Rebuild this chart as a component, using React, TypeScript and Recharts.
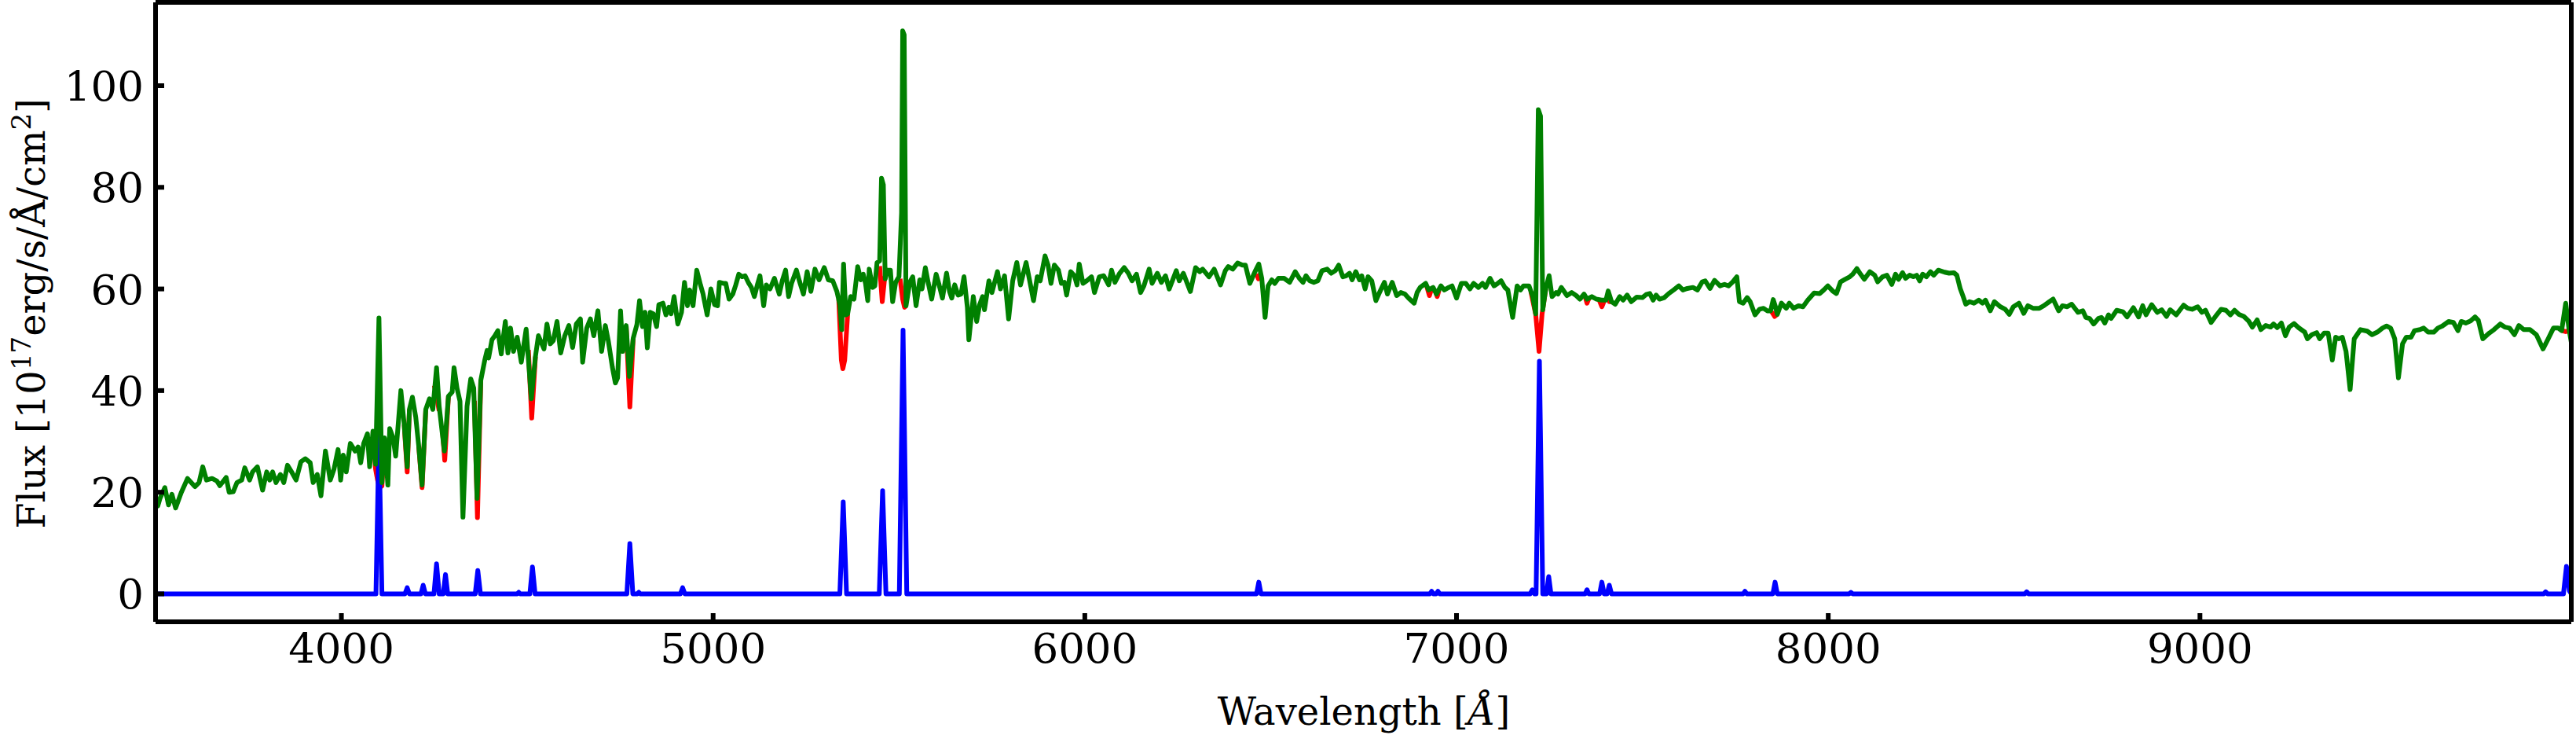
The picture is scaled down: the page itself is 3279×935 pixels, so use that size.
import { Line, LineChart, ReferenceLine, XAxis, YAxis } from "recharts";

type Pt = [number, number];

// observed flux (green), [wavelength, flux]
const observed: Pt[] = [
  [3500, 18.5], [3506, 17.3], [3512, 18.8], [3525, 20.9], [3535, 17.5], [3544, 19.6], [3554, 16.9], [3569, 19.9],
  [3586, 22.7], [3606, 21.1], [3617, 21.9], [3627, 25.0], [3637, 22.4], [3652, 22.7], [3665, 22.2], [3673, 21.3],
  [3690, 22.9], [3698, 20.0], [3709, 20.1], [3719, 21.9], [3732, 22.4], [3740, 24.8], [3753, 22.4], [3761, 24.0],
  [3774, 25.0], [3788, 20.4], [3799, 24.0], [3807, 22.4], [3815, 24.0], [3824, 21.9], [3836, 23.5], [3845, 21.9],
  [3855, 25.3], [3866, 24.0], [3878, 22.4], [3891, 26.0], [3903, 26.6], [3916, 25.8], [3924, 21.9], [3935, 23.5],
  [3945, 19.3], [3957, 28.1], [3970, 22.4], [3980, 24.5], [3991, 28.4], [3998, 22.4], [4005, 27.3], [4013, 24.0],
  [4024, 29.6], [4037, 28.1], [4045, 28.9], [4052, 25.8], [4060, 29.6], [4070, 31.5], [4076, 25.0], [4085, 32.0],
  [4092, 25.5], [4101, 54.3], [4109, 21.9], [4116, 30.7], [4125, 21.4], [4130, 32.5], [4139, 30.7],
  [4146, 27.1], [4160, 40.0], [4169, 33.3], [4177, 25.0], [4183, 36.3], [4191, 38.7], [4200, 34.8], [4208, 29.1],
  [4217, 21.4], [4227, 36.3], [4237, 38.4], [4246, 36.3], [4256, 44.5], [4263, 36.9], [4277, 28.1], [4288, 38.9],
  [4298, 39.7], [4303, 44.5], [4311, 40.5], [4319, 37.9], [4327, 15.1], [4338, 36.9], [4348, 42.3], [4356, 40.5],
  [4365, 18.8], [4375, 42.0], [4386, 46.1], [4392, 47.9], [4396, 46.4], [4405, 50.0], [4413, 50.8], [4421, 51.8],
  [4430, 47.2], [4441, 53.6], [4448, 47.4], [4455, 52.3], [4463, 47.7], [4473, 50.5], [4484, 45.6], [4497, 52.1],
  [4511, 38.4], [4522, 46.7], [4530, 50.8], [4545, 48.2], [4553, 53.1], [4562, 49.2], [4570, 49.8], [4580, 53.6],
  [4590, 47.4], [4601, 50.8], [4612, 52.8], [4622, 48.5], [4632, 53.1], [4643, 54.1], [4649, 45.6], [4660, 52.3],
  [4670, 54.1], [4679, 50.8], [4690, 55.7], [4700, 47.7], [4710, 52.8], [4718, 49.8], [4729, 44.6], [4737, 41.5],
  [4743, 42.5], [4751, 55.7], [4757, 47.7], [4766, 52.8], [4775, 42.8], [4785, 50.3], [4795, 53.0], [4802, 57.7],
  [4810, 52.6], [4817, 55.4], [4823, 48.4], [4831, 55.4], [4839, 55.1], [4848, 52.6], [4854, 56.9], [4865, 57.2],
  [4873, 54.9], [4881, 56.4], [4887, 55.1], [4895, 58.5], [4905, 53.1], [4915, 55.4], [4923, 61.3], [4931, 56.7],
  [4937, 59.8], [4946, 56.7], [4956, 63.7], [4966, 60.8], [4973, 59.0], [4984, 54.9], [4994, 60.0], [5004, 56.9],
  [5012, 56.7], [5017, 61.3], [5027, 61.1], [5034, 61.1], [5043, 58.0], [5053, 59.0], [5061, 60.8], [5069, 62.9],
  [5078, 62.4], [5086, 62.6], [5096, 61.1], [5103, 60.3], [5111, 58.5], [5119, 60.8], [5126, 62.6], [5136, 56.7],
  [5143, 60.8], [5153, 60.0], [5165, 62.1], [5178, 59.0], [5186, 61.6], [5195, 63.7], [5203, 58.5], [5211, 61.1],
  [5224, 63.7], [5232, 61.6], [5243, 59.0], [5253, 63.4], [5263, 59.5], [5274, 63.9], [5285, 61.8], [5299, 64.2],
  [5310, 61.8], [5322, 61.6], [5333, 59.5], [5341, 56.9], [5346, 52.0], [5351, 64.9], [5357, 54.9], [5362, 55.1],
  [5370, 58.5], [5379, 58.0], [5389, 64.4], [5397, 61.8], [5404, 62.9], [5410, 61.1], [5416, 57.7], [5420, 63.9],
  [5429, 60.3], [5435, 60.6], [5441, 65.2], [5448, 65.5], [5453, 81.8], [5458, 80.5], [5463, 62.0], [5469, 63.7],
  [5477, 63.7], [5483, 57.5], [5491, 61.3], [5500, 62.4], [5507, 75.0], [5510, 110.8], [5514, 110.0], [5519, 56.7],
  [5529, 61.3], [5537, 62.4], [5546, 56.7], [5556, 61.8], [5562, 60.0], [5571, 64.2], [5579, 61.1], [5588, 58.0],
  [5600, 62.9], [5608, 60.8], [5617, 58.2], [5628, 63.1], [5636, 59.5], [5642, 58.2], [5650, 60.8], [5659, 58.8],
  [5667, 59.0], [5675, 62.4], [5684, 56.4], [5688, 50.0], [5695, 54.9], [5700, 58.5], [5709, 53.6], [5717, 56.9],
  [5725, 58.5], [5730, 55.9], [5742, 61.6], [5750, 59.3], [5765, 63.4], [5773, 60.0], [5784, 62.6], [5795, 54.1],
  [5806, 61.6], [5817, 65.2], [5827, 60.8], [5842, 65.2], [5853, 61.1], [5862, 57.7], [5872, 62.4], [5880, 61.6],
  [5893, 66.5], [5901, 64.7], [5909, 61.1], [5918, 64.7], [5929, 63.7], [5937, 61.1], [5945, 61.3], [5951, 58.8],
  [5962, 63.4], [5972, 62.6], [5979, 60.8], [5985, 64.9], [5995, 61.1], [6005, 61.6], [6018, 62.4], [6026, 59.3],
  [6039, 62.4], [6051, 62.6], [6064, 60.8], [6072, 63.7], [6081, 61.3], [6093, 63.0], [6106, 64.2], [6117, 63.1],
  [6127, 61.6], [6139, 62.9], [6150, 59.3], [6159, 60.6], [6173, 63.9], [6181, 61.1], [6195, 63.1], [6206, 61.3],
  [6217, 62.6], [6227, 60.0], [6246, 63.6], [6254, 61.6], [6265, 63.1], [6284, 59.5], [6298, 64.2], [6309, 63.4],
  [6317, 63.9], [6334, 62.4], [6348, 63.9], [6365, 60.8], [6378, 63.6], [6386, 64.4], [6398, 63.9], [6411, 65.1],
  [6424, 64.7], [6432, 64.7], [6444, 61.1], [6459, 63.6], [6468, 64.9], [6476, 62.1], [6485, 54.4], [6493, 60.6],
  [6503, 61.8], [6511, 61.1], [6521, 62.1], [6536, 62.1], [6551, 61.3], [6566, 63.4], [6577, 62.1], [6587, 61.3],
  [6595, 62.6], [6605, 61.6], [6616, 61.3], [6627, 61.6], [6638, 63.6], [6652, 63.9], [6663, 63.1], [6674, 63.6],
  [6683, 64.7], [6694, 62.4], [6703, 62.6], [6712, 63.1], [6719, 61.8], [6729, 63.4], [6739, 61.8], [6745, 62.6],
  [6754, 60.0], [6762, 62.4], [6772, 61.6], [6783, 57.7], [6794, 59.5], [6806, 61.3], [6814, 59.0], [6827, 61.3],
  [6839, 58.7], [6850, 59.3], [6861, 59.0], [6871, 58.2], [6886, 57.2], [6894, 59.3], [6902, 60.3], [6917, 61.1],
  [6925, 59.8], [6937, 60.3], [6946, 59.0], [6958, 60.6], [6967, 59.8], [6979, 60.3], [6988, 60.6], [7000, 58.2],
  [7013, 61.1], [7025, 61.1], [7036, 60.0], [7046, 61.1], [7059, 60.3], [7070, 61.1], [7078, 60.3], [7090, 62.1],
  [7101, 60.6], [7111, 61.1], [7120, 61.6], [7130, 60.3], [7138, 59.8], [7151, 54.4], [7163, 60.6], [7172, 59.8],
  [7180, 60.6], [7195, 60.6], [7205, 58.5], [7213, 55.1], [7220, 95.3], [7226, 94.0], [7232, 55.9], [7240, 60.0],
  [7249, 62.6], [7257, 58.5], [7268, 59.3], [7273, 59.0], [7282, 60.3], [7297, 58.7], [7310, 59.3], [7322, 58.7],
  [7332, 58.0], [7343, 59.0], [7351, 58.0], [7364, 58.5], [7376, 58.0], [7390, 57.8], [7402, 57.8], [7408, 59.6],
  [7417, 57.5], [7427, 57.0], [7439, 58.5], [7448, 57.8], [7459, 58.8], [7470, 57.5], [7485, 58.4], [7500, 58.3],
  [7510, 58.9], [7520, 59.1], [7529, 57.8], [7537, 58.8], [7546, 58.0], [7559, 58.3], [7571, 59.1], [7584, 59.8],
  [7598, 60.6], [7609, 59.8], [7621, 60.1], [7636, 60.3], [7648, 59.8], [7661, 61.4], [7669, 61.6], [7682, 60.1],
  [7694, 61.7], [7709, 60.6], [7721, 60.9], [7732, 60.6], [7743, 61.4], [7754, 62.4], [7761, 57.5], [7771, 57.2],
  [7782, 58.3], [7790, 57.5], [7803, 54.9], [7815, 56.0], [7826, 56.2], [7836, 55.7], [7845, 55.7], [7852, 57.9],
  [7858, 56.5], [7863, 55.0], [7874, 57.2], [7887, 56.2], [7895, 57.2], [7907, 56.2], [7920, 56.7], [7932, 56.5],
  [7945, 57.8], [7962, 59.2], [7977, 59.1], [7988, 59.8], [7999, 60.6], [8012, 59.6], [8022, 59.1], [8033, 61.4],
  [8045, 61.9], [8058, 62.4], [8066, 62.9], [8077, 64.0], [8087, 62.9], [8097, 61.9], [8112, 63.4], [8125, 62.7],
  [8133, 61.4], [8146, 62.4], [8158, 62.7], [8171, 60.9], [8181, 62.9], [8189, 61.9], [8200, 63.2], [8208, 62.1],
  [8219, 62.7], [8229, 62.4], [8238, 62.7], [8246, 61.6], [8254, 62.9], [8264, 62.4], [8275, 63.4], [8284, 62.7],
  [8296, 63.7], [8313, 63.3], [8325, 63.1], [8338, 63.2], [8346, 62.7], [8355, 60.1], [8363, 58.5], [8370, 57.0],
  [8380, 57.5], [8392, 57.2], [8405, 57.8], [8415, 57.2], [8423, 57.8], [8436, 55.7], [8447, 57.5], [8463, 56.5],
  [8476, 56.0], [8487, 55.0], [8498, 56.5], [8513, 57.2], [8526, 55.2], [8537, 56.7], [8551, 56.2], [8568, 56.2],
  [8580, 56.7], [8595, 57.5], [8605, 58.0], [8620, 55.7], [8630, 56.7], [8643, 56.5], [8655, 57.0], [8672, 55.4],
  [8685, 55.7], [8693, 54.4], [8703, 54.2], [8714, 53.1], [8727, 54.2], [8735, 54.4], [8744, 53.3], [8754, 54.9],
  [8761, 54.2], [8776, 55.8], [8793, 55.5], [8804, 54.5], [8821, 56.3], [8835, 54.5], [8846, 56.7], [8855, 54.9],
  [8870, 56.9], [8885, 55.4], [8897, 55.9], [8910, 54.6], [8920, 55.9], [8936, 54.9], [8956, 56.8], [8967, 56.2],
  [8979, 56.0], [8994, 56.5], [9005, 55.4], [9015, 55.8], [9030, 53.4], [9045, 54.9], [9057, 56.0], [9070, 55.8],
  [9082, 54.9], [9093, 55.8], [9105, 55.0], [9118, 54.6], [9131, 53.7], [9141, 52.5], [9154, 53.9], [9164, 52.0],
  [9177, 52.8], [9190, 52.5], [9198, 53.1], [9208, 52.4], [9219, 53.3], [9230, 50.8], [9240, 52.5], [9253, 53.2],
  [9265, 52.4], [9282, 51.5], [9289, 50.2], [9301, 51.0], [9314, 51.4], [9322, 50.2], [9334, 51.3], [9345, 51.3],
  [9356, 46.0], [9365, 50.5], [9373, 50.2], [9383, 50.5], [9393, 47.7], [9404, 40.2], [9415, 50.2], [9432, 52.0],
  [9450, 51.7], [9463, 51.0], [9477, 51.5], [9491, 52.3], [9502, 52.7], [9513, 52.3], [9524, 50.2], [9534, 42.5],
  [9545, 49.2], [9555, 50.5], [9568, 50.5], [9577, 51.8], [9592, 52.0], [9602, 52.3], [9614, 51.5], [9629, 51.5],
  [9640, 52.3], [9652, 52.7], [9669, 53.6], [9682, 53.4], [9694, 51.8], [9703, 53.6], [9715, 53.3], [9728, 53.7],
  [9740, 54.5], [9749, 53.8], [9761, 50.2], [9778, 51.3], [9791, 52.0], [9808, 53.1], [9820, 52.5], [9833, 52.3],
  [9846, 51.0], [9858, 52.8], [9871, 52.0], [9888, 52.0], [9905, 51.0], [9923, 48.2], [9937, 50.2], [9951, 52.3],
  [9964, 52.3], [9973, 51.8], [9984, 57.2], [9993, 52.0], [9999, 49.5],
];

// stellar fit (red), only where it departs from the observed curve
const stellarDips: Pt[][] = [
  [[4085, 32.0], [4092, 24.5], [4097, 22.5], [4102, 21.0], [4109, 21.2], [4116, 30.7]],
  [[4169, 33.3], [4177, 24.0], [4183, 36.3]],
  [[4208, 29.1], [4217, 20.9], [4227, 36.3]],
  [[4250, 41.0], [4257, 38.5], [4263, 36.0]],
  [[4271, 33.0], [4278, 26.3], [4288, 38.9]],
  [[4358, 38.0], [4366, 15.0], [4375, 42.0]],
  [[4503, 48.0], [4512, 34.6], [4522, 46.7]],
  [[4766, 52.8], [4776, 36.8], [4785, 50.3]],
  [[5338, 58.0], [5345, 46.0], [5349, 44.3], [5354, 46.0], [5362, 55.1]],
  [[5448, 64.5], [5455, 57.5], [5462, 62.5]],
  [[5503, 62.0], [5510, 58.0], [5515, 56.4], [5519, 56.7]],
  [[6462, 63.0], [6467, 62.0], [6473, 63.0]],
  [[6920, 60.5], [6927, 58.7], [6934, 60.3]],
  [[6943, 59.6], [6948, 58.5], [6953, 59.8]],
  [[7200, 59.5], [7213, 55.0], [7222, 47.7], [7230, 55.0], [7240, 60.0]],
  [[7346, 58.5], [7351, 57.2], [7357, 58.3]],
  [[7384, 57.8], [7391, 56.5], [7398, 57.8]],
  [[7406, 58.8], [7411, 57.5], [7417, 57.5]],
  [[7848, 55.5], [7856, 54.6], [7863, 55.0]],
  [[9975, 51.8], [9984, 51.6], [9993, 51.8]],
];

// emission-line component (blue)
const emission: Pt[] = [
  [3500, 0],
  [4093, 0], [4101, 31], [4109, 0],
  [4171, 0], [4177, 1.2], [4183, 0],
  [4214, 0], [4220, 1.7], [4226, 0],
  [4249, 0], [4256, 5.9], [4263, 0],
  [4274, 0], [4280, 3.8], [4286, 0],
  [4360, 0], [4367, 4.6], [4374, 0],
  [4473, 0], [4477, 0.3], [4481, 0],
  [4507, 0], [4514, 5.3], [4521, 0],
  [4768, 0], [4776, 9.9], [4784, 0],
  [4796, 0], [4800, 0.3], [4804, 0],
  [4912, 0], [4918, 1.2], [4924, 0],
  [5341, 0], [5350, 18.1], [5359, 0],
  [5447, 0], [5456, 20.3], [5465, 0],
  [5501, 0], [5511, 51.9], [5521, 0],
  [6462, 0], [6468, 2.3], [6474, 0],
  [6928, 0], [6933, 0.5], [6938, 0],
  [6945, 0], [6950, 0.5], [6955, 0],
  [7198, 0], [7204, 0.8], [7210, 0],
  [7214, 0], [7223, 45.8], [7232, 0],
  [7242, 0], [7248, 3.4], [7254, 0],
  [7346, 0], [7351, 0.8], [7356, 0],
  [7385, 0], [7391, 2.3], [7397, 0],
  [7405, 0], [7411, 1.7], [7417, 0],
  [7771, 0], [7776, 0.5], [7781, 0],
  [7851, 0], [7857, 2.3], [7863, 0],
  [8056, 0], [8061, 0.3], [8066, 0],
  [8529, 0], [8534, 0.4], [8539, 0],
  [9925, 0], [9930, 0.4], [9935, 0],
  [9978, 0], [9986, 5.4], [9994, 0.6], [9999, 0],
];

const xTicks = [4000, 5000, 6000, 7000, 8000, 9000];
const yTicks = [0, 20, 40, 60, 80, 100];

const W = 3279;
const H = 935;
const FONT = "DejaVu Serif";

const rows = (pts: Pt[]) => pts.map(([w, f]) => ({ w, f }));

// ticks point inward, labels sit outside the frame
const YTick = ({ x, y, payload }: any) => (
  <g>
    <line x1={x} x2={x + 11} y1={y} y2={y} stroke="#000" strokeWidth={6} />
    <text x={x - 15} y={y + 19} textAnchor="end" fontSize={53} fontFamily={FONT} fill="#000">
      {payload.value}
    </text>
  </g>
);

const XTick = ({ x, y, payload }: any) => (
  <g>
    <line x1={x} x2={x} y1={y - 11} y2={y} stroke="#000" strokeWidth={6} />
    <text x={x} y={y + 52} textAnchor="middle" fontSize={53} fontFamily={FONT} fill="#000">
      {payload.value}
    </text>
  </g>
);

export default function App() {
  return (
    <div style={{ position: "absolute", left: 0, top: 0, width: W, height: H, background: "#fff" }}>
      <LineChart width={W} height={H} margin={{ top: 3, right: 6, bottom: 0, left: 0 }}>
        <XAxis
          dataKey="w"
          type="number"
          domain={[3500, 9999]}
          ticks={xTicks}
          interval={0}
          allowDataOverflow
          height={144}
          tickSize={0}
          tickMargin={0}
          tickLine={false}
          tick={<XTick />}
          axisLine={{ stroke: "#000", strokeWidth: 6 }}
        />
        <YAxis
          type="number"
          domain={[-5.5, 116.4]}
          ticks={yTicks}
          interval={0}
          allowDataOverflow
          width={198}
          tickSize={0}
          tickMargin={0}
          tickLine={false}
          tick={<YTick />}
          axisLine={{ stroke: "#000", strokeWidth: 6 }}
        />
        {stellarDips.map((seg, i) => (
          <Line
            key={`fit-${i}`}
            data={rows(seg)}
            dataKey="f"
            type="linear"
            stroke="#ff0000"
            strokeWidth={6}
            strokeLinejoin="round"
            dot={false}
            activeDot={false}
            isAnimationActive={false}
          />
        ))}
        <Line
          data={rows(emission)}
          dataKey="f"
          type="linear"
          stroke="#0000ff"
          strokeWidth={6}
          strokeLinejoin="round"
          dot={false}
          activeDot={false}
          isAnimationActive={false}
        />
        <Line
          data={rows(observed)}
          dataKey="f"
          type="linear"
          stroke="#008000"
          strokeWidth={6}
          strokeLinejoin="round"
          dot={false}
          activeDot={false}
          isAnimationActive={false}
        />
        <ReferenceLine y={116.4} stroke="#000" strokeWidth={6} />
        <ReferenceLine x={9999} stroke="#000" strokeWidth={6} />
      </LineChart>
      <svg width={W} height={H} style={{ position: "absolute", left: 0, top: 0, pointerEvents: "none" }}>
        <text x={1736} y={922} textAnchor="middle" fontSize={48} fontFamily={FONT} fill="#000">
          Wavelength [<tspan fontStyle="italic">Å</tspan>]
        </text>
        <text transform="translate(57 399) rotate(-90)" textAnchor="middle" fontSize={48} fontFamily={FONT} fill="#000">
          Flux [10
          <tspan dy={-18} fontSize={34}>17</tspan>
          <tspan dy={18}>erg/s/Å/cm</tspan>
          <tspan dy={-18} fontSize={34}>2</tspan>
          <tspan dy={18}>]</tspan>
        </text>
      </svg>
    </div>
  );
}
